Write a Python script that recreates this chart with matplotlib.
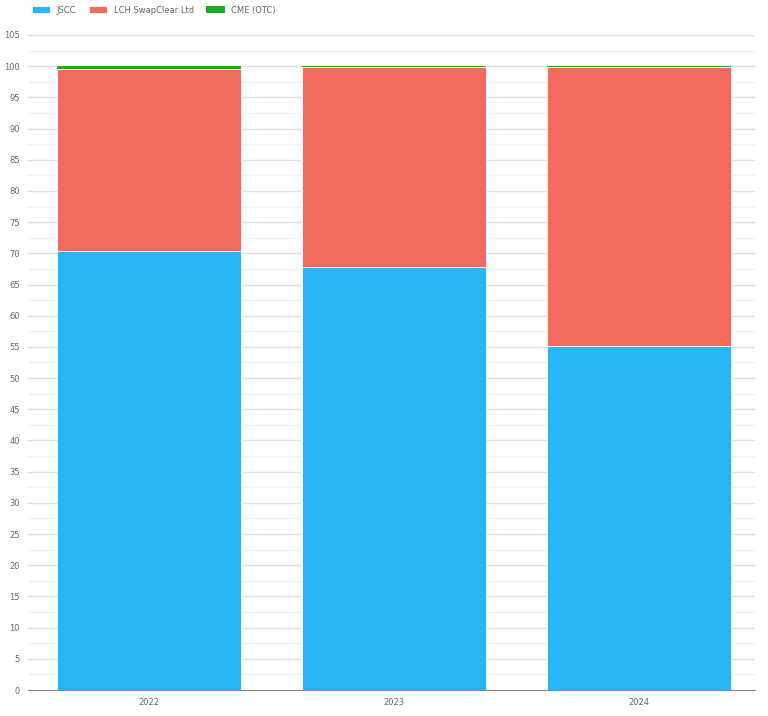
import matplotlib
matplotlib.use("Agg")
import matplotlib.pyplot as plt
import numpy as np

years = ["2022", "2023", "2024"]
jscc = [70.4, 67.8, 55.1]
lch = [29.1, 32.15, 44.85]
cme = [0.5, 0.05, 0.05]

fig = plt.figure(figsize=(7.68, 7.16), dpi=100)
ax = fig.add_axes([28/768, 1-690/716, 727/768, (690-35)/716])
x = np.arange(len(years))
w = 0.75
c1, c2, c3 = "#29b6f6", "#f26b5e", "#22aa22"
ax.bar(x, jscc, w, color=c1, label="JSCC", edgecolor="white", linewidth=0.6, zorder=3)
ax.bar(x, lch, w, bottom=jscc, color=c2, label="LCH SwapClear Ltd", edgecolor="white", linewidth=0.6, zorder=3)
b2 = np.array(jscc) + np.array(lch)
ax.bar(x, cme, w, bottom=b2, color=c3, label="CME (OTC)", linewidth=0, zorder=3)
ax.set_xlim(-0.494, 2.473)
ax.set_ylim(0, 105)
ax.set_yticks(np.arange(0, 106, 5))
ax.set_yticks(np.arange(2.5, 105, 5), minor=True)
ax.grid(axis="y", which="major", color="#e0e0e0", linewidth=1, zorder=0)
ax.grid(axis="y", which="minor", color="#f2f2f2", linewidth=1, zorder=0)
ax.set_xticks(x)
ax.set_xticklabels(years)
ax.tick_params(axis="both", labelsize=6, colors="#666666", length=0, pad=6)
ax.tick_params(axis="y", which="minor", length=0)
for s in ["top", "right", "left"]:
    ax.spines[s].set_visible(False)
ax.spines["bottom"].set_color("#888888")
ax.legend(loc="upper left", bbox_to_anchor=(-0.005, 1.056), ncol=3, frameon=False,
          fontsize=6, labelcolor="#666666", handlelength=2.2, handleheight=0.9, columnspacing=1.5)
fig.savefig("out.png", dpi=100)
